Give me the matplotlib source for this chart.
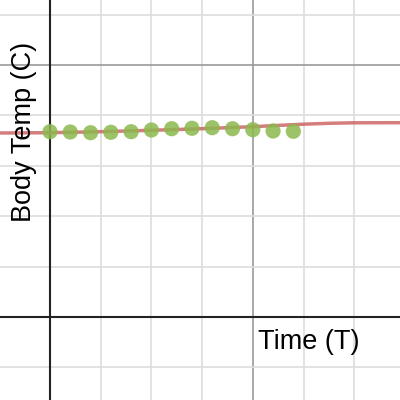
import matplotlib
matplotlib.use("Agg")
import matplotlib.pyplot as plt
import numpy as np

ux, uy = 50.7, 50.4
# data (read in units)
t_pts = [0, 0.4, 0.8, 1.2, 1.6, 2.0, 2.4, 2.8, 3.2, 3.6, 4.0, 4.4, 4.8]
temp_px = [131.7, 132, 132.7, 132.3, 131.7, 130, 128.7, 128.3, 127.7, 128.7, 129.7, 131, 131.3]
temp_pts = [(317 - p) / uy for p in temp_px]
curve_t = [-1.0, 0, 1, 2, 3, 4, 4.5, 5, 5.5, 6, 7]
curve_px = [133.0, 132.7, 131.7, 130.3, 128.7, 126.7, 125.4, 124.2, 123.3, 122.8, 122.7]
curve_y = [(317 - p) / uy for p in curve_px]

plt.rcParams['font.family'] = ['Liberation Sans', 'DejaVu Sans']
fig = plt.figure(figsize=(4, 4), dpi=100)
ax = fig.add_axes([0, 0, 1, 1])
x0, x1 = -50 / ux, 350 / ux
y0, y1 = -83 / uy, 317 / uy
ax.set_xlim(x0, x1); ax.set_ylim(y0, y1)
for v in range(-1, 8):
    if v == 0: continue
    ax.axvline(v, color="#999999" if v % 4 == 0 else "#dddddd", lw=1.2, zorder=0)
for v in range(-2, 7):
    if v == 0: continue
    ax.axhline(v, color="#999999" if v % 5 == 0 else "#dddddd", lw=1.2, zorder=0)
ax.axvline(0, color="#222222", lw=1.5, zorder=1)
ax.axhline(0, color="#222222", lw=1.5, zorder=1)
ax.plot(curve_t, curve_y, color="#cc6666", lw=2.5, alpha=0.85, zorder=2, solid_capstyle="butt")
ax.scatter(t_pts, temp_pts, s=120, color="#8cb94f", alpha=0.85, edgecolors="none", zorder=3)
ax.set_xticks([]); ax.set_yticks([])
for s in ax.spines.values(): s.set_visible(False)
ax.text(208 / ux, (317 - 342) / uy, "Time (T)", fontsize=19.5, va="center", ha="left", color="black")
ax.text(-26 / ux, (317 - 132) / uy, "Body Temp (C)", fontsize=19.5, rotation=90, va="center", ha="center", color="black")
fig.savefig("out.png", dpi=100)
